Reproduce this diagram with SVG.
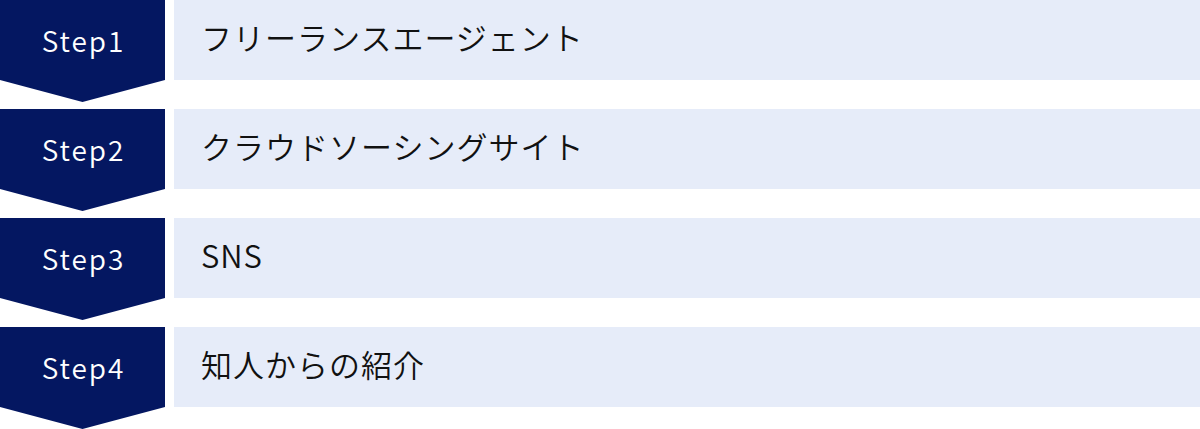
<svg xmlns="http://www.w3.org/2000/svg" width="1200" height="429" viewBox="0 0 1200 429">
<style>
.badge{fill:#041761}
.bar{fill:#E6ECF9}
.step{font-family:"Noto Sans CJK JP","Noto Sans",sans-serif;font-size:28px;font-weight:350;fill:#FFFFFF;text-anchor:middle;letter-spacing:2px}
.lbl{font-family:"Noto Sans CJK JP","Noto Sans",sans-serif;font-size:31px;font-weight:350;fill:#111111;letter-spacing:1px}
</style>
<rect width="1200" height="429" fill="#FFFFFF"/>
<g id="step1">
<polygon class="badge" points="0,0 165,0 165,80 82.5,102 0,80"/>
<text class="step" x="83.5" y="52">Step1</text>
<rect class="bar" x="174" y="0" width="1026" height="80"/>
<text class="lbl" x="201" y="50">フリーランスエージェント</text>
</g>
<g id="step2">
<polygon class="badge" points="0,109 165,109 165,189 82.5,211 0,189"/>
<text class="step" x="83.5" y="161">Step2</text>
<rect class="bar" x="174" y="109" width="1026" height="80"/>
<text class="lbl" x="201" y="159">クラウドソーシングサイト</text>
</g>
<g id="step3">
<polygon class="badge" points="0,218 165,218 165,298 82.5,320 0,298"/>
<text class="step" x="83.5" y="270">Step3</text>
<rect class="bar" x="174" y="218" width="1026" height="80"/>
<text class="lbl" x="201" y="268">SNS</text>
</g>
<g id="step4">
<polygon class="badge" points="0,327 165,327 165,407 82.5,429 0,407"/>
<text class="step" x="83.5" y="379">Step4</text>
<rect class="bar" x="174" y="327" width="1026" height="80"/>
<text class="lbl" x="201" y="377">知人からの紹介</text>
</g>
<g id="connectors"></g>
</svg>
